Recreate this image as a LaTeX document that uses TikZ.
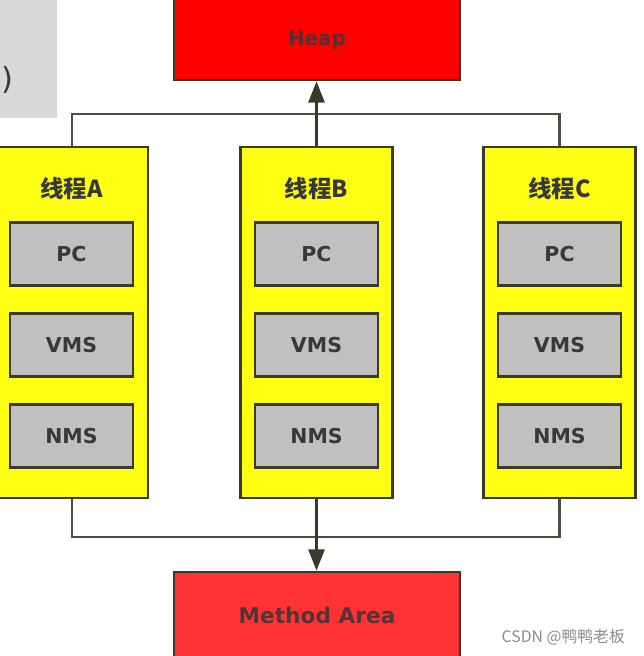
\documentclass[tikz,border=0pt]{standalone}
\usepackage{fontspec}
\setmainfont{DejaVu Sans}
\newfontfamily\cjk{Noto Sans CJK SC}
\usetikzlibrary{arrows.meta,positioning}

\definecolor{heapred}{HTML}{FF0000}
\definecolor{methred}{HTML}{FF3333}
\definecolor{thyellow}{HTML}{FFFF14}
\definecolor{regray}{HTML}{C0C0C0}
\definecolor{edgedark}{HTML}{3A3A2A}
\definecolor{txtdark}{HTML}{383838}
\definecolor{panelgray}{HTML}{D8D8D8}

\begin{document}
\begin{tikzpicture}[
  x=0.03cm, y=-0.03cm,
  font=\bfseries,
  area/.style={draw=edgedark, line width=2.2pt, minimum width=8.58cm},
  thread/.style={draw=edgedark, fill=thyellow, line width=2pt, minimum width=4.56cm, minimum height=10.53cm},
  reg/.style={draw=edgedark, fill=regray, line width=2pt, minimum width=3.69cm, minimum height=1.89cm, text=txtdark, font=\bfseries\fontsize{17.5}{20}\selectfont},
  ttl/.style={text=txtdark, font=\cjk\bfseries\fontsize{20}{24}\selectfont},
  bus/.style={line width=2.3pt, draw=edgedark!90},
  arr/.style={line width=2.3pt, draw=edgedark, -{Triangle[length=6.4mm,width=4.8mm]}}
]
\useasboundingbox (0,0) rectangle (643,656);

% ----- Slide remains
\fill[panelgray] (-5,-5) rectangle (57,118);
\node[text=txtdark, font=\fontsize{26}{28}\selectfont] (paren) at (7,80) {)};

% ----- Shared areas
\node[area, fill=heapred, minimum height=2.7cm] (heap) at (317,35) {};
\node[text=txtdark!85!heapred, font=\bfseries\fontsize{17}{20}\selectfont] (heaptxt) at (317,40) {Heap};
\node[area, fill=methred, minimum height=2.82cm] (method) at (317,619) {};
\node[text=txtdark!88!methred, font=\bfseries\fontsize{18.5}{22}\selectfont] (methtxt) at (317,615) {Method Area};

% ----- Threads
\node[thread] (thA) at (72,322.5) {};
\node[thread] (thB) at (316.5,322.5) {};
\node[thread] (thC) at (559.5,322.5) {};

\node[ttl] (tA) at (71.5,189) {线程A};
\node[ttl] (tB) at (316.5,189) {线程B};
\node[ttl] (tC) at (559.5,189) {线程C};

% registers per thread
\node[reg] (pcA)  at (71.5,254) {PC};
\node[reg] (vmsA) at (71.5,345) {VMS};
\node[reg] (nmsA) at (71.5,436) {NMS};

\node[reg] (pcB)  at (316.5,254) {PC};
\node[reg] (vmsB) at (316.5,345) {VMS};
\node[reg] (nmsB) at (316.5,436) {NMS};

\node[reg] (pcC)  at (559.5,254) {PC};
\node[reg] (vmsC) at (559.5,345) {VMS};
\node[reg] (nmsC) at (559.5,436) {NMS};

% ----- Bus lines
\coordinate (busT) at (317,114);
\coordinate (busB) at (317,537);

\draw[bus] (thA.north) -- (thA.north |- busT) -- (thC.north |- busT) -- (thC.north);
\draw[bus] (thA.south) -- (thA.south |- busB) -- (thC.south |- busB) -- (thC.south);

\draw[arr] (thB.north) -- (thB.north |- heap.south);
\draw[arr] (thB.south) -- (thB.south |- method.north);

% ----- Watermark
\node[text=black!45, font=\cjk\fontsize{13.5}{15}\selectfont, anchor=east] (mark) at (629,637) {CSDN @鸭鸭老板};

\end{tikzpicture}
\end{document}
